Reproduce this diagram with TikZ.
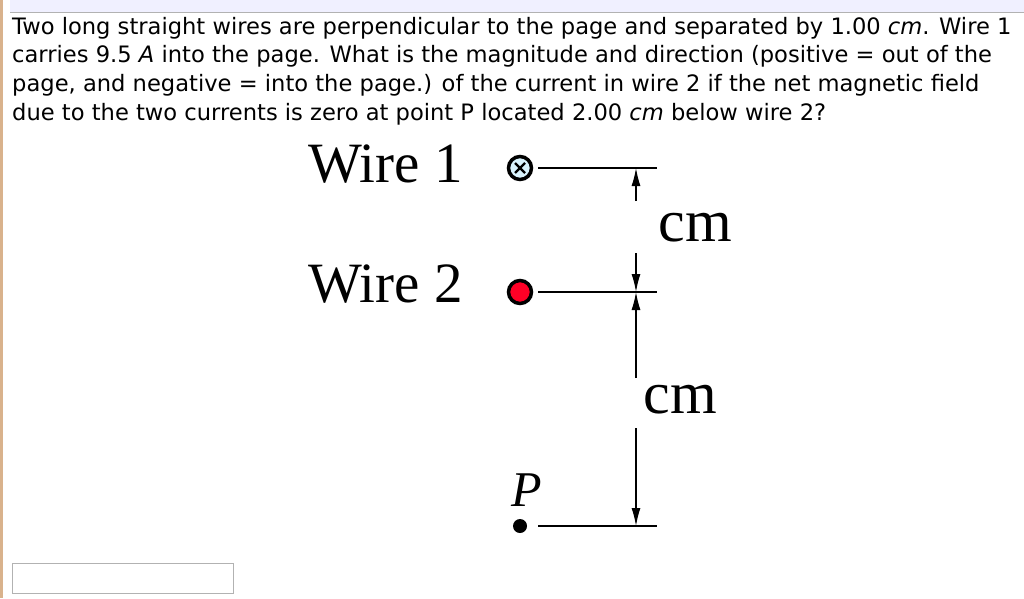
\documentclass[tikz,border=0pt]{standalone}
\usepackage{fontspec}
\setmainfont{Liberation Serif}
\newfontfamily\qfont{DejaVu Sans}
\usetikzlibrary{arrows.meta,calc}
\begin{document}
\begin{tikzpicture}[x=1pt,y=-1pt,
  dim/.style={draw=black,line width=1.3pt,-{Latex[length=18pt,width=9pt]}},
  lead/.style={draw=black,line width=1.3pt},
  wl/.style={font=\fontsize{57}{57}\selectfont,anchor=base west,inner sep=0},
  cmlab/.style={font=\fontsize{60}{60}\selectfont,inner sep=0}]
\useasboundingbox (0,0) rectangle (1024,598);
\fill[white] (0,0) rectangle (1024,598);
\fill[blue!6] (10,0) rectangle (1024,12);
\draw[gray!60] (10,12.5) -- (1024,12.5);
\fill[brown!60] (0,0) rectangle (3,598);
\node[anchor=north west,align=left,inner sep=0,font=\qfont\fontsize{22.6}{28.6}\selectfont] (q) at (12,17)
{Two long straight wires are perpendicular to the page and separated by 1.00 \textit{cm}. Wire 1\\
carries 9.5 \textit{A} into the page. What is the magnitude and direction (positive = out of the\\
page, and negative = into the page.) of the current in wire 2 if the net magnetic field\\
due to the two currents is zero at point P located 2.00 \textit{cm} below wire 2?};
\node[wl] (w1) at (308,182) {Wire 1};
\node[wl] (w2) at (308,302) {Wire 2};
\node[circle,draw,line width=3.5pt,fill=cyan!15,minimum size=23pt,inner sep=0] (c1) at (520,168) {};
\draw[line width=2.3pt] ($(c1.center)+(-5,-5)$) -- ($(c1.center)+(5,5)$);
\draw[line width=2.3pt] ($(c1.center)+(-5,5)$) -- ($(c1.center)+(5,-5)$);
\node[circle,draw,line width=3.5pt,fill=red!85!magenta,minimum size=23pt,inner sep=0] (c2) at (520,292) {};
\node[circle,fill=black,minimum size=14pt,inner sep=0] (p) at (520,526) {};
\node[font=\fontsize{50}{50}\selectfont\itshape,inner sep=0] (pl) at (527,490) {P};
\coordinate (a1) at (538,168); \coordinate (b1) at (657,168);
\coordinate (a2) at (538,292); \coordinate (b2) at (657,292);
\coordinate (a3) at (538,526); \coordinate (b3) at (657,526);
\draw[lead] (a1) -- (b1); \draw[lead] (a2) -- (b2); \draw[lead] (a3) -- (b3);
\coordinate (t1) at (636,201); \coordinate (h1) at (636,168);
\coordinate (t2) at (636,253); \coordinate (h2) at (636,292);
\coordinate (t3) at (636,378); \coordinate (t4) at (636,428); \coordinate (h4) at (636,526);
\draw[dim] (t1) -- (h1); \draw[dim] (t2) -- (h2); \draw[dim] (t3) -- (h2); \draw[dim] (t4) -- (h4);
\node[cmlab] (cm1) at (695,228) {cm};
\node[cmlab] (cm2) at (680,400) {cm};
\node[draw=gray!60,minimum width=221pt,minimum height=30pt,inner sep=0,anchor=north west] (box) at (12,563) {};
\end{tikzpicture}
\end{document}
